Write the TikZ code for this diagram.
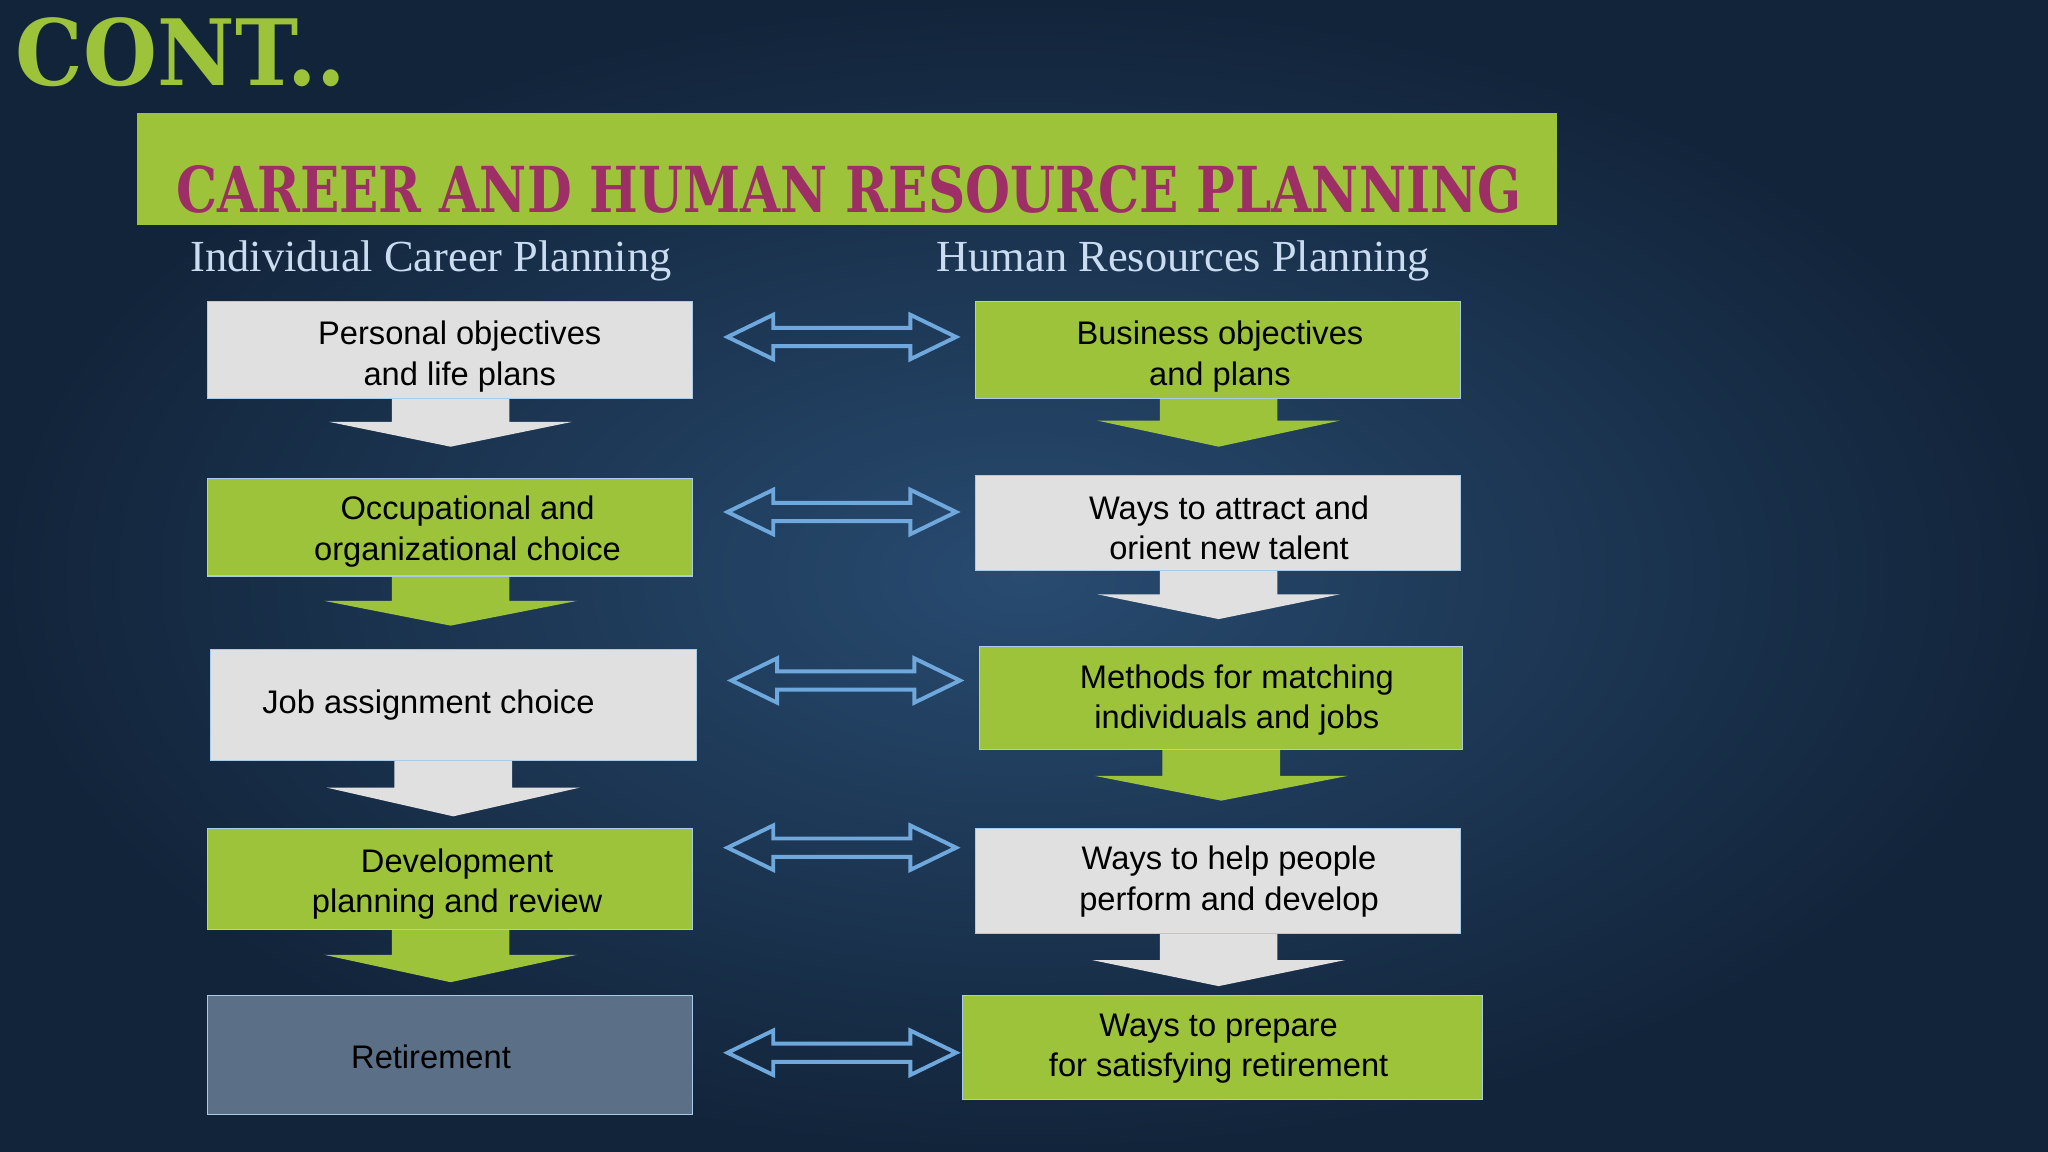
\documentclass[tikz,border=0pt]{standalone}
\usepackage{fontspec}
\usepackage{graphicx}
\setmainfont{Liberation Sans}
\newfontfamily\hserif{DejaVu Serif}
\newfontfamily\lserif{Liberation Serif}
\definecolor{bgc}{HTML}{284B70}
\definecolor{bgd}{HTML}{12243A}
\definecolor{grn}{HTML}{9DC33B}
\definecolor{gry}{HTML}{E0E0E0}
\definecolor{slt}{HTML}{5B6F86}
\definecolor{mar}{HTML}{9E2F66}
\definecolor{sub}{HTML}{C9DCF0}
\definecolor{arr}{HTML}{6FA8DC}
\tikzset{
 boxst/.style={draw=arr!60,line width=0.8pt,inner sep=0pt,align=center,font=\fontsize{25}{31}\selectfont,text=black},
 darr/.style={draw=arr,line width=3pt,line join=miter},
}
\newcommand{\dnarrow}[6]{% cx, top, headY, tipY, halfhead, color
 \fill[#6] (#1-45,#2) -- (#1-45,#3) -- (#1-#5,#3) -- (#1,#4) -- (#1+#5,#3) -- (#1+45,#3) -- (#1+45,#2) -- cycle;}
\newcommand{\dblarrow}[3]{%
 \draw[darr] (#1,#3) -- (#1+35,#3-17) -- (#1+35,#3-7) -- (#2-35,#3-7) -- (#2-35,#3-17) -- (#2,#3) -- (#2-35,#3+17) -- (#2-35,#3+7) -- (#1+35,#3+7) -- (#1+35,#3+17) -- cycle;}
\begin{document}
\begin{tikzpicture}[x=1pt,y=-1pt]
\useasboundingbox (0,0) rectangle (1568,882);
\shade[inner color=bgc, outer color=bgd] (0,0) rectangle (1568,882);
\node[anchor=west,inner sep=0pt,text=grn] (cont) at (12,40) {\resizebox{253pt}{52pt}{\hserif\bfseries CONT..}};
\node[fill=grn,minimum width=1087pt,minimum height=86pt,anchor=north west,inner sep=0pt] (bar) at (105,86) {};
\node[inner sep=0pt,text=mar] (title) at (650,145) {\resizebox{1030pt}{36pt}{\hserif\bfseries CAREER AND HUMAN RESOURCE PLANNING}};
\node[text=sub,font=\lserif\fontsize{34}{40}\selectfont] (s1) at (330,200) {Individual Career Planning};
\node[text=sub,font=\lserif\fontsize{34}{40}\selectfont] (s2) at (906,200) {Human Resources Planning};
% left arrows
\dnarrow{345}{304}{323}{342}{93}{gry}
\dnarrow{345}{440}{460}{479}{97}{grn}
\dnarrow{347}{581}{603}{625}{97}{gry}
\dnarrow{345}{711}{731}{752}{97}{grn}
% right arrows
\dnarrow{933}{304}{322}{342}{93}{grn}
\dnarrow{933}{436}{455}{474}{93}{gry}
\dnarrow{935}{573}{594}{613}{97}{grn}
\dnarrow{933}{714}{735}{755}{97}{gry}
% left boxes
\node[boxst,fill=gry,minimum width=371pt,minimum height=74pt] (l1) at (344.5,268) {};
\node[boxst,draw=none] (l1t) at (352,273) {Personal objectives\\and life plans};
\node[boxst,fill=grn,minimum width=371pt,minimum height=75pt] (l2) at (344.5,403.5) {};
\node[boxst,draw=none] (l2t) at (358,407) {Occupational and\\organizational choice};
\node[boxst,fill=gry,minimum width=372pt,minimum height=85pt] (l3) at (347,539.5) {};
\node[boxst,draw=none] (l3t) at (328,540) {Job assignment choice};
\node[boxst,fill=grn,minimum width=371pt,minimum height=78pt] (l4) at (344.5,673) {};
\node[boxst,draw=none] (l4t) at (350,677) {Development\\planning and review};
\node[boxst,fill=slt,minimum width=371pt,minimum height=91pt] (l5) at (344.5,807.5) {};
\node[boxst,draw=none] (l5t) at (330,809) {Retirement};
% right boxes
\node[boxst,fill=grn,minimum width=371pt,minimum height=74pt] (r1) at (932.5,268) {};
\node[boxst,draw=none] (r1t) at (934,273) {Business objectives\\and plans};
\node[boxst,fill=gry,minimum width=371pt,minimum height=73pt] (r2) at (932.5,400.5) {};
\node[boxst,draw=none] (r2t) at (941,404) {Ways to attract and\\orient new talent};
\node[boxst,fill=grn,minimum width=370pt,minimum height=79pt] (r3) at (935,534.5) {};
\node[boxst,draw=none] (r3t) at (947,536) {Methods for matching\\individuals and jobs};
\node[boxst,fill=gry,minimum width=371pt,minimum height=81pt] (r4) at (932.5,674.5) {};
\node[boxst,draw=none] (r4t) at (941,675) {Ways to help people\\perform and develop};
\node[boxst,fill=grn,minimum width=398pt,minimum height=80pt] (r5) at (936,802) {};
\node[boxst,draw=none] (r5t) at (933,803) {Ways to prepare\\for satisfying retirement};
% double arrows
\dblarrow{557}{732}{258}
\dblarrow{557}{732}{392}
\dblarrow{560}{735}{521}
\dblarrow{557}{732}{649}
\dblarrow{557}{732}{806}
\end{tikzpicture}
\end{document}
